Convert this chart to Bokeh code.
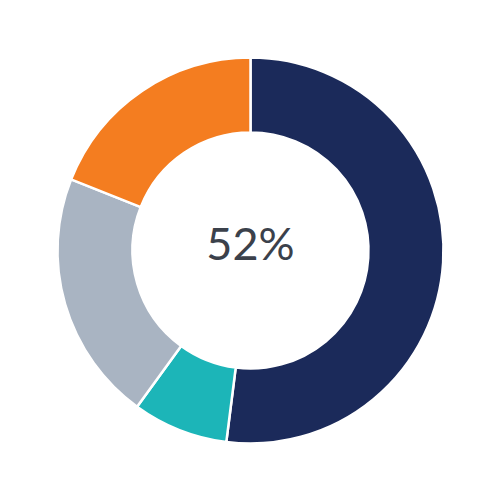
import math
from bokeh.plotting import figure
from bokeh.models import ColumnDataSource, Range1d
from bokeh.core.properties import value
from bokeh.embed import file_html
from bokeh.resources import INLINE

categories = ["Navy", "Teal", "Gray", "Orange"]
shares = [52, 8, 21, 19]
colors = ["#1b2a5a", "#1cb5b8", "#a9b4c2", "#f47d20"]
center_label = "52%"

total = float(sum(shares))
starts, ends = [], []
acc = 0.0
for s in shares:
    a0 = math.pi / 2 - 2 * math.pi * acc / total
    acc += s
    a1 = math.pi / 2 - 2 * math.pi * acc / total
    starts.append(a0)
    ends.append(a1)

src = ColumnDataSource(dict(cat=categories, val=shares, color=colors,
                            start=starts, end=ends))

W = 484
p = figure(width=W, height=W, output_backend="svg", toolbar_location=None,
           x_range=Range1d(-250, 234), y_range=Range1d(-234, 250),
           min_border=0)
p.axis.visible = False
p.grid.visible = False
p.outline_line_color = None
p.background_fill_color = "white"
p.border_fill_color = "white"

p.annular_wedge(x=0, y=0, inner_radius=118, outer_radius=193,
                start_angle="start", end_angle="end", direction="clock",
                fill_color="color", line_color="white", line_width=2.5,
                source=src)

p.text(x=[0], y=[0], y_offset=-8, text=[center_label], text_align="center",
       text_baseline="middle", text_font=value("Lato"),
       text_font_size="45px", text_color="#3b414b")

open("out.html", "w").write(file_html(p, INLINE))
